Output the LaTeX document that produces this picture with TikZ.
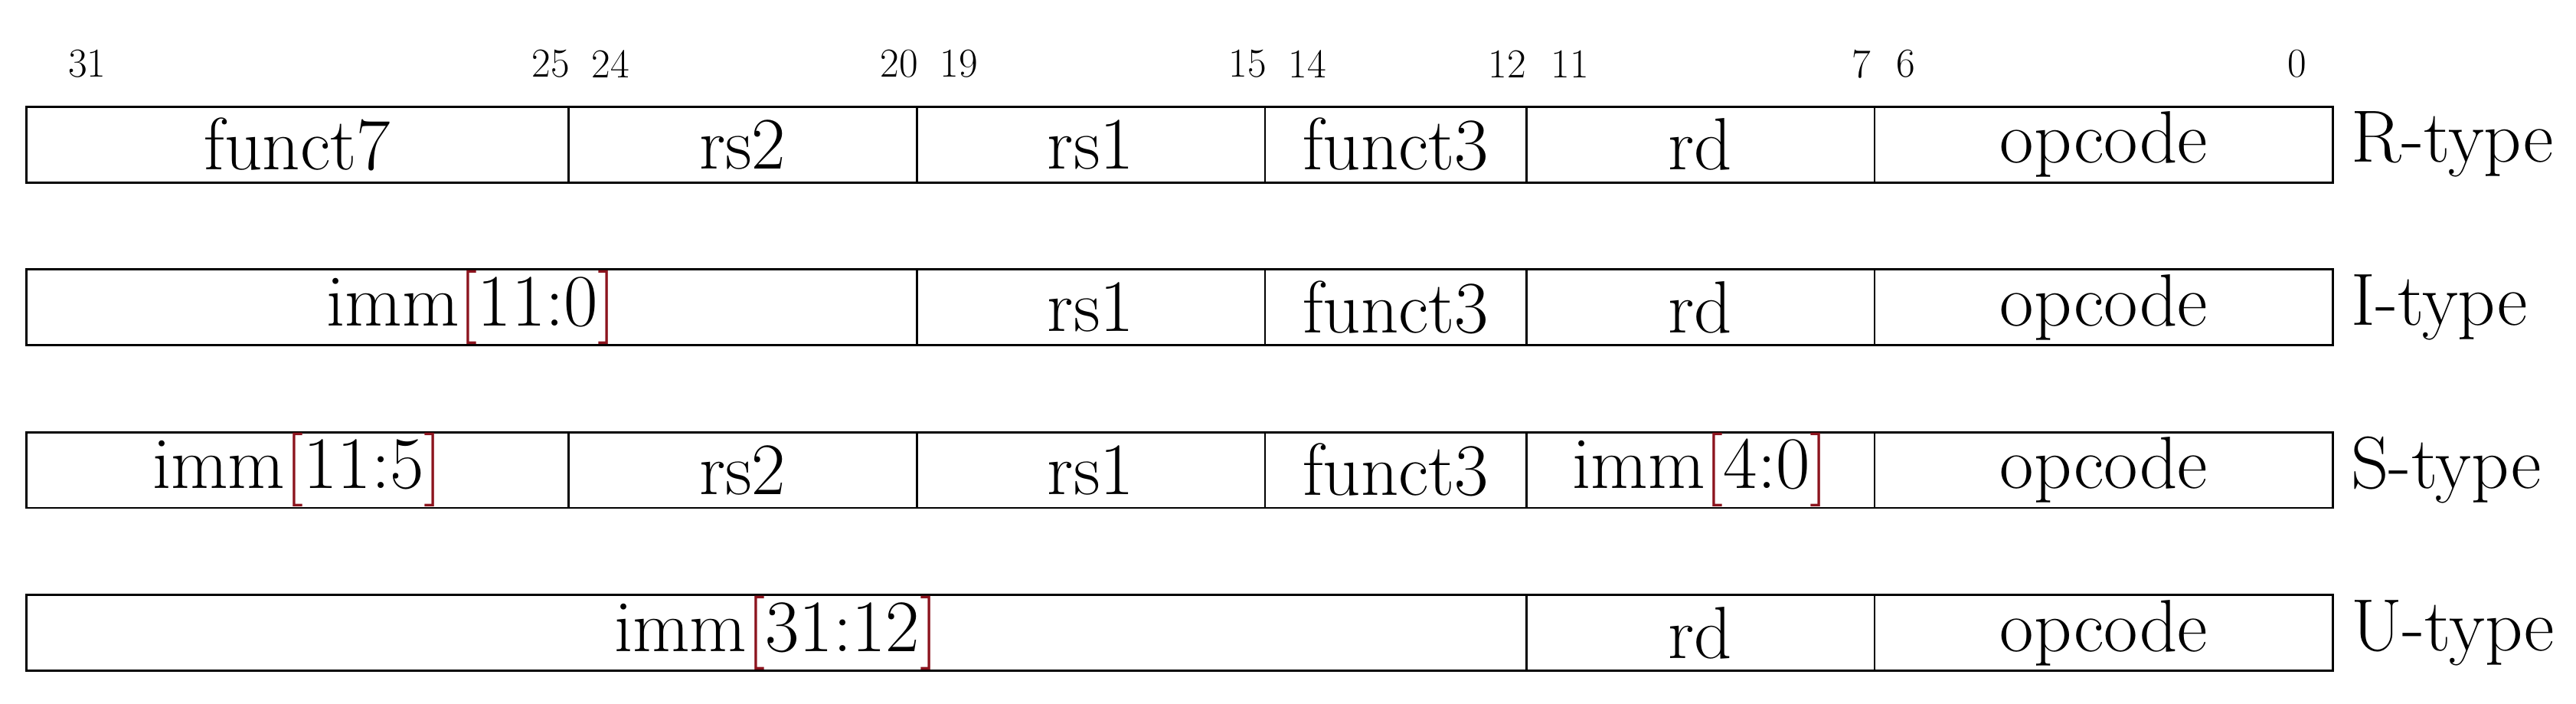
\documentclass[tikz,border=0pt]{standalone}
\begin{document}
\begin{tikzpicture}[x=1pt,y=-1pt,
  fld/.style={draw,line width=1.3pt,rectangle,inner sep=0pt,minimum height=46pt,font=\fontsize{45}{48}\selectfont},
  bitnum/.style={font=\fontsize{25}{28}\selectfont,inner sep=0pt},
  typ/.style={anchor=west,font=\fontsize{45}{48}\selectfont,inner sep=0pt}]
\definecolor{br}{RGB}{140,20,30}
\useasboundingbox (0,0) rectangle (1568,428);
\newcommand{\fieldbox}[5]{\node[fld,minimum width={#3-#2}] (#1) at ({(#2+#3)/2},#4) {#5};}
\newcommand{\bk}[1]{\textcolor{br}{[}#1\textcolor{br}{]}}
% R
\fieldbox{r1}{16}{346}{88}{funct7}
\fieldbox{r2}{346}{558}{88}{rs2}
\fieldbox{r3}{558}{770}{88}{rs1}
\fieldbox{r4}{770}{929}{88}{funct3}
\fieldbox{r5}{929}{1141}{88}{rd}
\fieldbox{r6}{1141}{1420}{88}{opcode}
\node[typ] (rt) at (1431,88) {R-type};
% I
\fieldbox{i1}{16}{558}{187}{imm\bk{11:0}}
\fieldbox{i3}{558}{770}{187}{rs1}
\fieldbox{i4}{770}{929}{187}{funct3}
\fieldbox{i5}{929}{1141}{187}{rd}
\fieldbox{i6}{1141}{1420}{187}{opcode}
\node[typ] (it) at (1431,187) {I-type};
% S
\fieldbox{s1}{16}{346}{286}{imm\bk{11:5}}
\fieldbox{s2}{346}{558}{286}{rs2}
\fieldbox{s3}{558}{770}{286}{rs1}
\fieldbox{s4}{770}{929}{286}{funct3}
\fieldbox{s5}{929}{1141}{286}{imm\bk{4:0}}
\fieldbox{s6}{1141}{1420}{286}{opcode}
\node[typ] (st) at (1431,286) {S-type};
% U
\fieldbox{u1}{16}{929}{385}{imm\bk{31:12}}
\fieldbox{u5}{929}{1141}{385}{rd}
\fieldbox{u6}{1141}{1420}{385}{opcode}
\node[typ] (ut) at (1431,385) {U-type};
% bit numbers
\node[bitnum] (b31) at (53,39) {31};
\node[bitnum,anchor=east] (b25) at (347,39) {25};
\node[bitnum,anchor=west] (b24) at (360,39) {24};
\node[bitnum,anchor=east] (b20) at (559,39) {20};
\node[bitnum,anchor=west] (b19) at (572,39) {19};
\node[bitnum,anchor=east] (b15) at (771,39) {15};
\node[bitnum,anchor=west] (b14) at (784,39) {14};
\node[bitnum,anchor=east] (b12) at (929,39) {12};
\node[bitnum,anchor=west] (b11) at (944,39) {11};
\node[bitnum,anchor=east] (b7) at (1139,39) {7};
\node[bitnum,anchor=west] (b6) at (1154,39) {6};
\node[bitnum] (b0) at (1398,39) {0};
\end{tikzpicture}
\end{document}
